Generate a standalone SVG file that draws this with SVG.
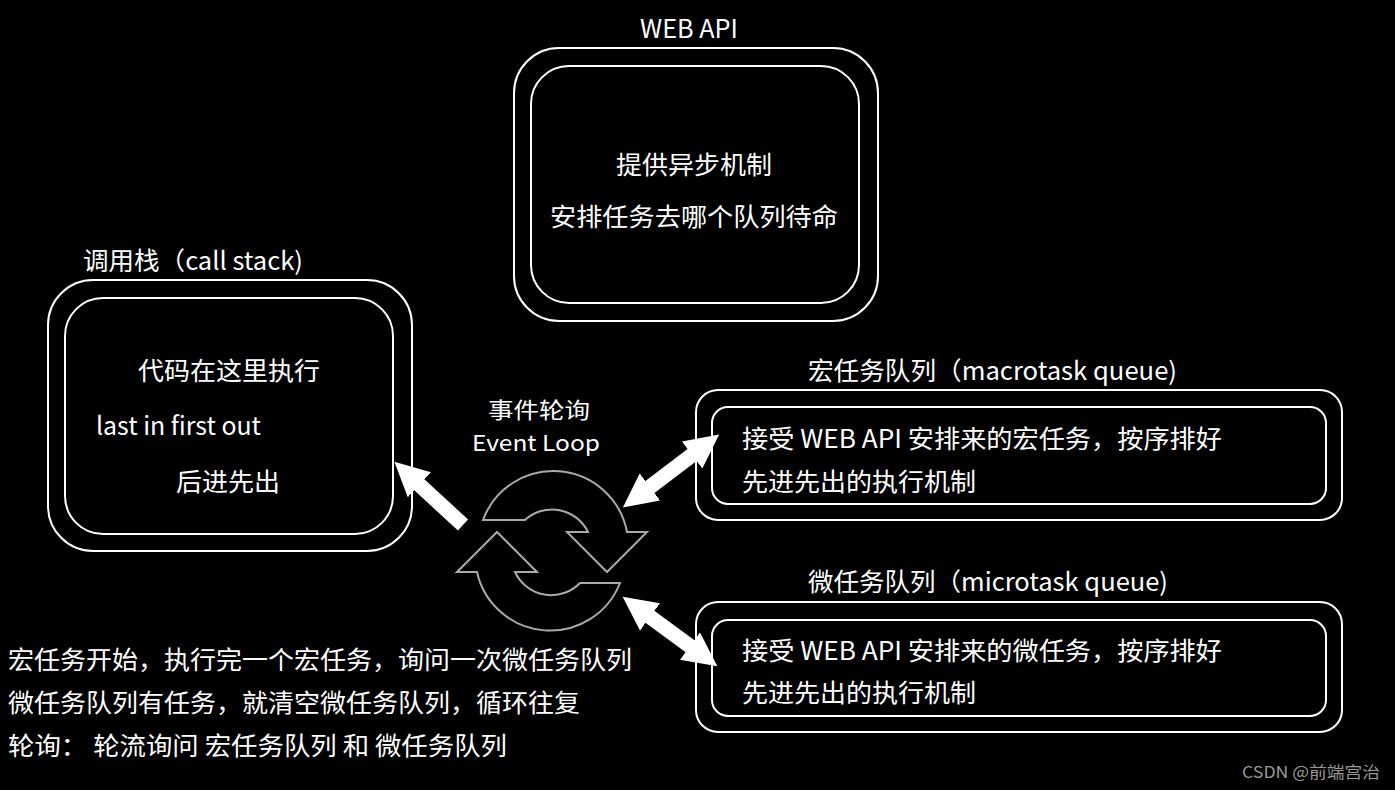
<svg xmlns="http://www.w3.org/2000/svg" width="1395" height="790" viewBox="0 0 1395 790">
<style>
.b{fill:none;stroke:#fff;stroke-width:2}
.t{fill:#fff;font-family:"Noto Sans CJK SC","Noto Sans",sans-serif;font-size:25px}
.s{font-size:22px}
.a{stroke:#fff;stroke-width:15;fill:none}
</style>
<defs>
<marker id="h" markerUnits="userSpaceOnUse" markerWidth="34" markerHeight="34" refX="10" refY="17" orient="auto-start-reverse" viewBox="0 0 34 34"><path d="M0 0 L34 17 L0 34 Z" fill="#fff"/></marker>
</defs>
<rect width="1395" height="790" fill="#000"/>
<g id="webapi">
<rect class="b" x="514" y="48" width="364" height="273" rx="45"/>
<rect class="b" x="531" y="66" width="328" height="237" rx="38"/>
<text class="t" x="640" y="38" textLength="98" lengthAdjust="spacingAndGlyphs">WEB API</text>
<text class="t" x="616" y="174" textLength="156" lengthAdjust="spacingAndGlyphs">提供异步机制</text>
<text class="t" x="550" y="226" textLength="288" lengthAdjust="spacingAndGlyphs">安排任务去哪个队列待命</text>
</g>
<g id="callstack">
<rect class="b" x="48" y="280" width="364" height="271" rx="45"/>
<rect class="b" x="65" y="298" width="328" height="236" rx="38"/>
<text class="t" x="83" y="270" textLength="220" lengthAdjust="spacingAndGlyphs">调用栈（call stack)</text>
<text class="t" x="138" y="380" textLength="182" lengthAdjust="spacingAndGlyphs">代码在这里执行</text>
<text class="t" x="96" y="435" textLength="165" lengthAdjust="spacingAndGlyphs">last in first out</text>
<text class="t" x="176" y="491" textLength="104" lengthAdjust="spacingAndGlyphs">后进先出</text>
</g>
<g id="macro">
<rect class="b" x="696" y="390" width="646" height="130" rx="22"/>
<rect class="b" x="712" y="407" width="614" height="97" rx="16"/>
<text class="t" x="808" y="380" textLength="369" lengthAdjust="spacingAndGlyphs">宏任务队列（macrotask queue)</text>
<text class="t" x="742" y="448" textLength="480" lengthAdjust="spacingAndGlyphs">接受 WEB API 安排来的宏任务，按序排好</text>
<text class="t" x="742" y="491" textLength="234" lengthAdjust="spacingAndGlyphs">先进先出的执行机制</text>
</g>
<g id="micro">
<rect class="b" x="696" y="602" width="646" height="130" rx="22"/>
<rect class="b" x="712" y="620" width="614" height="96" rx="16"/>
<text class="t" x="808" y="591" textLength="360" lengthAdjust="spacingAndGlyphs">微任务队列（microtask queue)</text>
<text class="t" x="742" y="660" textLength="480" lengthAdjust="spacingAndGlyphs">接受 WEB API 安排来的微任务，按序排好</text>
<text class="t" x="742" y="702" textLength="234" lengthAdjust="spacingAndGlyphs">先进先出的执行机制</text>
</g>
<g id="eventloop">
<text class="t s" x="488" y="418" textLength="102" lengthAdjust="spacingAndGlyphs">事件轮询</text>
<text class="t s" x="472" y="451" textLength="128" lengthAdjust="spacingAndGlyphs">Event Loop</text>
<path d="M483 520 A75 75 0 0 1 627 532 L647 532 L607 572 L567 532 L588 532 A40 40 0 0 0 525 520 Z" fill="none" stroke="#aaa" stroke-width="2"/>
<path d="M457 572 L497 532 L537 572 L515 572 A40 40 0 0 0 580 583 L620 583 A75 75 0 0 1 477 572 Z" fill="none" stroke="#aaa" stroke-width="2"/>
</g>
<g id="notes">
<text class="t" x="8" y="669" textLength="624" lengthAdjust="spacingAndGlyphs">宏任务开始，执行完一个宏任务，询问一次微任务队列</text>
<text class="t" x="8" y="712" textLength="572" lengthAdjust="spacingAndGlyphs">微任务队列有任务，就清空微任务队列，循环往复</text>
<text class="t" x="8" y="755" textLength="499" lengthAdjust="spacingAndGlyphs">轮询： 轮流询问 宏任务队列 和 微任务队列</text>
<text x="1242" y="778" fill="#999" font-family="'Noto Sans CJK SC',sans-serif" font-size="16" textLength="138" lengthAdjust="spacingAndGlyphs">CSDN @前端宫治</text>
</g>
<g id="connectors">
<line class="a" x1="463" y1="525" x2="412" y2="478" marker-end="url(#h)"/>
<line class="a" x1="642" y1="493" x2="700" y2="449" marker-start="url(#h)" marker-end="url(#h)"/>
<line class="a" x1="642" y1="611" x2="698" y2="652" marker-start="url(#h)" marker-end="url(#h)"/>
</g>
</svg>
